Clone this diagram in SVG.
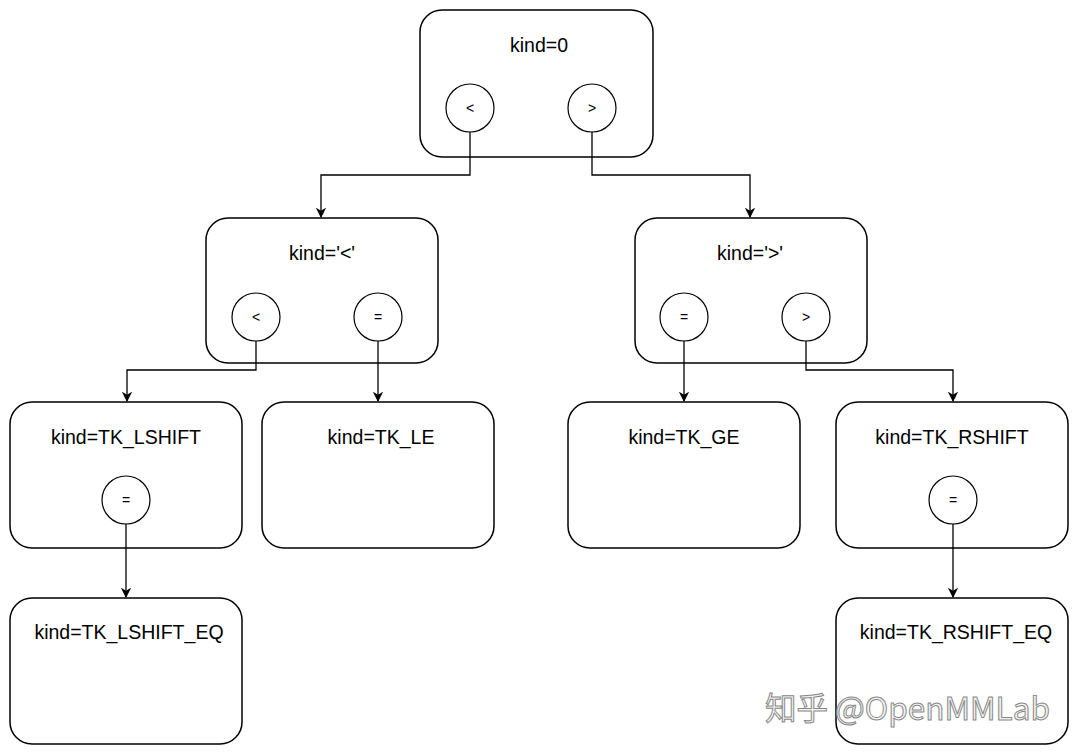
<svg xmlns="http://www.w3.org/2000/svg" width="1080" height="755" viewBox="0 0 1080 755">
<style>
.b{fill:#fff;stroke:#000;stroke-width:1.5}
.c{fill:#fff;stroke:#000;stroke-width:1.2}
.t{font-family:"Liberation Sans",Arial,sans-serif;font-size:19.5px;text-anchor:middle}
.s{font-family:"Liberation Sans",Arial,sans-serif;font-size:14px;text-anchor:middle}
.e{fill:none;stroke:#000;stroke-width:1.3;marker-end:url(#a)}
</style>
<defs><marker id="a" viewBox="0 0 10 10" refX="9" refY="5" markerWidth="8" markerHeight="8" orient="auto"><path d="M0,0L10,5L0,10L3,5z" fill="#000"/></marker></defs>
<rect width="1080" height="755" fill="#fff"/>
<g id="n0"><rect class="b" x="420" y="10" width="233" height="147" rx="22"/><text class="t" x="539" y="52">kind=0</text>
<circle class="c" cx="470" cy="108" r="24"/><text class="s" x="470" y="113">&lt;</text>
<circle class="c" cx="592" cy="108" r="24"/><text class="s" x="592" y="113">&gt;</text></g>
<g id="nlt"><rect class="b" x="206" y="218" width="232" height="145" rx="22"/><text class="t" x="322" y="260">kind='&lt;'</text>
<circle class="c" cx="256" cy="317" r="24"/><text class="s" x="256" y="322">&lt;</text>
<circle class="c" cx="378" cy="317" r="24"/><text class="s" x="378" y="322">=</text></g>
<g id="ngt"><rect class="b" x="635" y="218" width="232" height="145" rx="22"/><text class="t" x="750" y="260">kind='&gt;'</text>
<circle class="c" cx="684" cy="317" r="24"/><text class="s" x="684" y="322">=</text>
<circle class="c" cx="806" cy="317" r="24"/><text class="s" x="806" y="322">&gt;</text></g>
<g id="nls"><rect class="b" x="10" y="402" width="232" height="146" rx="22"/><text class="t" x="126" y="444">kind=TK_LSHIFT</text>
<circle class="c" cx="126" cy="500" r="24"/><text class="s" x="126" y="505">=</text></g>
<g id="nle"><rect class="b" x="262" y="402" width="232" height="146" rx="22"/><text class="t" x="381" y="444">kind=TK_LE</text></g>
<g id="nge"><rect class="b" x="568" y="402" width="232" height="146" rx="22"/><text class="t" x="684" y="444">kind=TK_GE</text></g>
<g id="nrs"><rect class="b" x="836" y="402" width="232" height="146" rx="22"/><text class="t" x="952" y="444">kind=TK_RSHIFT</text>
<circle class="c" cx="953" cy="500" r="24"/><text class="s" x="953" y="505">=</text></g>
<g id="nlse"><rect class="b" x="10" y="598" width="232" height="146" rx="22"/><text class="t" x="129" y="639">kind=TK_LSHIFT_EQ</text></g>
<g id="nrse"><rect class="b" x="836" y="598" width="232" height="146" rx="22"/><text class="t" x="956" y="639">kind=TK_RSHIFT_EQ</text></g>
<g id="edges">
<path class="e" d="M470,132V175H321V217"/>
<path class="e" d="M592,132V175H750V217"/>
<path class="e" d="M256,341V370H127V401"/>
<path class="e" d="M378,341V401"/>
<path class="e" d="M684,341V401"/>
<path class="e" d="M806,341V370H953V401"/>
<path class="e" d="M126,524V597"/>
<path class="e" d="M953,524V597"/>
</g>
<text x="765" y="720" font-family="'Noto Sans CJK SC','Liberation Sans',sans-serif" font-size="31.5" fill="#f4f4f4" stroke="#888" stroke-width="1">知乎 @OpenMMLab</text>
</svg>
